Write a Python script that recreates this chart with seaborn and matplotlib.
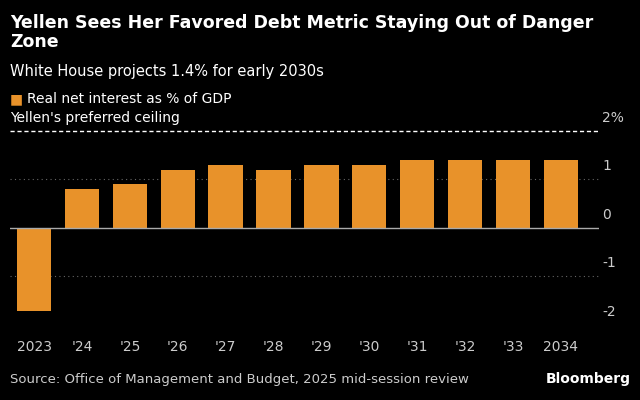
import matplotlib
matplotlib.use("Agg")
import matplotlib.pyplot as plt
import seaborn as sns
import pandas as pd

years = ["2023", "'24", "'25", "'26", "'27", "'28", "'29", "'30", "'31", "'32", "'33", "2034"]
values = [-1.72, 0.8, 0.9, 1.18, 1.29, 1.18, 1.29, 1.29, 1.39, 1.39, 1.39, 1.39]
yticks = [-2, -1, 0, 1, 2]
ylabels = ["-2", "-1", "0", "1", "2%"]

df = pd.DataFrame({"year": years, "value": values})
bg = "black"
orange = "#e8922a"

fig = plt.figure(figsize=(6.4, 4.0), dpi=100, facecolor=bg)
ax = fig.add_axes([0.016, 0.17, 0.92, 0.54], facecolor=bg)
sns.barplot(data=df, x="year", y="value", color=orange, width=0.72, ax=ax, saturation=1)
ax.set_ylim(-2.15, 2.3)
ax.set_xlim(-0.5, 11.8)
for s in ax.spines.values():
    s.set_visible(False)
ax.set_xlabel(""); ax.set_ylabel("")
ax.tick_params(axis="x", colors="#cccccc", length=0, labelsize=10, pad=6)
ax.set_yticks([])
for t, l in zip(yticks, ylabels):
    if t == 2:
        ax.axhline(t, color="white", lw=1, ls=(0, (3, 2)), zorder=0)
    elif t == 0:
        ax.axhline(t, color="#aaaaaa", lw=1, zorder=3)
    elif t != -2:
        ax.axhline(t, color="#666666", lw=0.8, ls=(0, (1, 3)), zorder=0)
    ax.text(1.005, t + 0.12, l, transform=ax.get_yaxis_transform(), color="#cccccc",
            fontsize=10, ha="left", va="bottom")
ax.text(-0.5, 2.12, "Yellen's preferred ceiling", color="white", fontsize=10, va="bottom")

fig.text(0.016, 0.965, "Yellen Sees Her Favored Debt Metric Staying Out of Danger\nZone",
         color="white", fontsize=12.5, fontweight="bold", va="top", linespacing=1.1)
fig.text(0.016, 0.84, "White House projects 1.4% for early 2030s", color="white", fontsize=10.5, va="top")
fig.text(0.016, 0.77, "\u25A0", color=orange, fontsize=10, va="top")
fig.text(0.042, 0.77, "Real net interest as % of GDP", color="white", fontsize=10, va="top")
fig.text(0.016, 0.035, "Source: Office of Management and Budget, 2025 mid-session review",
         color="#cccccc", fontsize=9.5, va="bottom")
fig.text(0.985, 0.035, "Bloomberg", color="white", fontsize=10, fontweight="bold", ha="right", va="bottom")
fig.savefig("out.png", facecolor=bg)
